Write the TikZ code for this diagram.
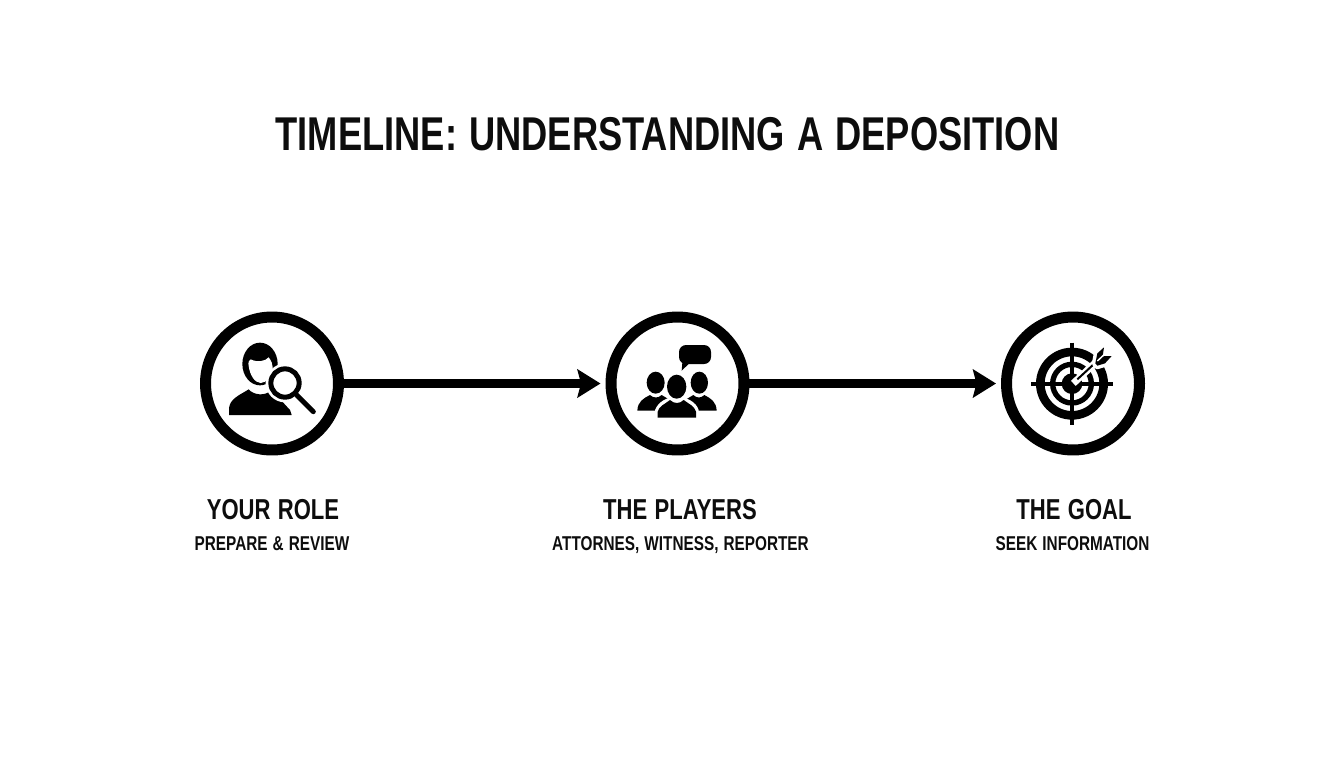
\documentclass[tikz,border=0pt]{standalone}
\usepackage{fontspec}
\setmainfont[FakeStretch=0.765,WordSpace=1.2]{Liberation Sans}
\usetikzlibrary{arrows.meta}
\begin{document}
\begin{tikzpicture}[x=0.02cm,y=-0.02cm,
  stepcircle/.style={draw=black,circle,line width=0.22cm,minimum size=2.66cm,inner sep=0pt,fill=white},
  steparrow/.style={draw=black,line width=0.17cm,-{Stealth[length=0.46cm,width=0.56cm,inset=0.07cm]},shorten >=0.1cm},
  headtext/.style={font=\bfseries\fontsize{27}{30}\selectfont,anchor=base,text=black!95},
  nametext/.style={font=\bfseries\fontsize{16.4}{19}\selectfont,anchor=base,text=black!95},
  subtext/.style={font=\bfseries\fontsize{11.4}{13}\selectfont,anchor=base,text=black!95}]
\useasboundingbox (0,0) rectangle (1344,768);
\node[headtext] (title) at (667.5,150) {TIMELINE: UNDERSTANDING A DEPOSITION};
\node[stepcircle] (role) at (272,383.5) {};
\node[stepcircle] (players) at (677.5,383.5) {};
\node[stepcircle] (goal) at (1073,383.5) {};
\draw[steparrow] (role) -- (players);
\draw[steparrow] (players) -- (goal);
\node[nametext] (rolename) at (273,519) {YOUR ROLE};
\node[subtext] (rolesub) at (272,550) {PREPARE \& REVIEW};
\node[nametext] (playersname) at (680,519) {THE PLAYERS};
\node[subtext] (playerssub) at (680.5,550) {ATTORNES, WITNESS, REPORTER};
\node[nametext] (goalname) at (1074,519) {THE GOAL};
\node[subtext] (goalsub) at (1072.5,550) {SEEK INFORMATION};
\begin{scope}[shift={(190,300)},scale=1/3]
\fill (117,345) -- (117,325) .. controls (120,295) and (150,285) .. (176,268) .. controls (190,285) and (225,290) .. (245,270) -- (300,330) -- (305,345) -- cycle;
\fill (210,192) ellipse [x radius=53,y radius=64];
\fill[white] (176,198) .. controls (174,188) and (176,180) .. (182,178) .. controls (202,188) and (226,184) .. (236,172) .. controls (244,182) and (248,192) .. (248,202) .. controls (246,228) and (232,248) .. (212,249) .. controls (194,248) and (180,226) .. (176,198) -- cycle;
\fill[white] (285,249) circle [radius=58];
\draw[line width=0.1cm] (285,249) circle [radius=42.5];
\draw[line width=0.1cm,line cap=round] (320,285) -- (370,335);
\end{scope}
\begin{scope}[shift={(595,300)},scale=1/3]
\fill[rounded corners=0.14cm] (252,135) rectangle (348,192);
\fill (262,188) -- (260,212) -- (285,188) -- cycle;
\fill (182,248) ellipse [x radius=27,y radius=33];
\fill (127,332) .. controls (128,305) and (145,295) .. (165,285) .. controls (175,295) and (190,295) .. (200,285) -- (225,300) -- (190,332) -- cycle;
\fill (313,248) ellipse [x radius=26,y radius=33];
\fill (365,332) .. controls (364,305) and (347,295) .. (328,285) .. controls (318,295) and (305,295) .. (295,285) -- (270,300) -- (305,332) -- cycle;
\fill[white] (245,260) ellipse [x radius=36,y radius=43];
\fill[white] (180,360) -- (180,330) .. controls (190,305) and (215,292) .. (245,288) .. controls (275,292) and (303,305) .. (311,330) -- (311,360) -- cycle;
\fill (245,260) ellipse [x radius=29,y radius=36];
\fill (188,353) -- (188,335) .. controls (192,318) and (210,312) .. (225,300) .. controls (237,312) and (254,312) .. (266,300) .. controls (282,312) and (298,318) .. (303,335) -- (303,353) -- cycle;
\end{scope}
\begin{scope}[shift={(990,300)},scale=1/3]
\draw[line width=0.173cm] (246,251) circle [radius=95];
\draw[line width=0.107cm] (246,251) circle [radius=58];
\fill (246,251) circle [radius=31];
\draw[line width=0.08cm] (124,251) -- (370,251);
\draw[line width=0.08cm] (246,128) -- (246,375);
\draw[white,line width=0.14cm] (250,250) -- (325,180);
\draw[line width=0.04cm] (262,238) -- (325,180);
\draw[white,line width=0.14cm,line join=round] (316,190) -- (322,160) -- (342,142) -- (338,168) -- (365,168) -- (345,190) -- (322,197) -- cycle;
\fill (316,190) -- (322,160) -- (342,142) -- (338,168) -- (365,168) -- (345,190) -- (322,197) -- cycle;
\draw[white,line width=0.03cm] (322,183) -- (352,155);
\end{scope}
\end{tikzpicture}
\end{document}
